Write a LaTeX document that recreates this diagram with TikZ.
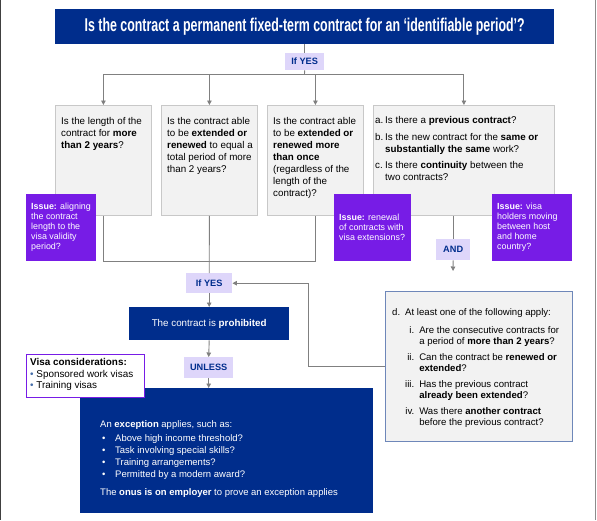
\documentclass[tikz,border=0pt]{standalone}
\usepackage{fontspec}
\setmainfont{Liberation Sans}
\newfontfamily\titlefont[FakeStretch=0.67]{Liberation Sans Bold}
\usetikzlibrary{arrows.meta}
\definecolor{navy}{RGB}{0,45,140}
\definecolor{purp}{RGB}{119,28,230}
\definecolor{lav}{RGB}{222,214,250}
\definecolor{boxgray}{RGB}{242,242,242}
\definecolor{boxline}{RGB}{200,200,200}
\definecolor{connc}{RGB}{128,128,128}
\definecolor{dline}{RGB}{110,135,185}
\definecolor{bulc}{RGB}{70,110,170}
\begin{document}
\hyphenpenalty=10000 \exhyphenpenalty=10000
\renewcommand\arraystretch{1}
\begin{tikzpicture}[x=1pt,y=-1pt,
  qbox/.style={draw=boxline, fill=boxgray, line width=0.8pt, anchor=north west, inner sep=0pt},
  qtext/.style={anchor=north west, inner sep=0pt, align=left, font=\fontsize{9.8}{12}\selectfont},
  issue/.style={fill=purp, anchor=north west, inner sep=0pt, minimum height=67pt},
  issuetext/.style={text=white, font=\fontsize{8.9}{10}\selectfont, align=left, anchor=west, inner sep=0pt},
  tag/.style={fill=lav, text=navy, font=\fontsize{9.2}{10}\bfseries\selectfont, inner sep=0pt, anchor=north west},
  navybox/.style={fill=navy, inner sep=0pt, anchor=north west},
  conn/.style={draw=connc, line width=0.9pt},
  arr/.style={conn, -{Triangle[length=4.5pt,width=4.5pt]}}
]
\useasboundingbox (0,0) rectangle (597,520);
\fill[white] (0,0) rectangle (597,520);
\draw[line width=1pt, black!75] (0.5,0) -- (0.5,520);
\draw[line width=1pt, black!45] (595.5,0) -- (595.5,520);

% title
\node[navybox, minimum width=499pt, minimum height=35pt] (title) at (55,9)
  {\titlefont\fontsize{18.5}{20}\selectfont\color{white}Is the contract a permanent fixed-term contract for an ‘identifiable period’?};
\node[tag, minimum width=39pt, minimum height=17pt] (yes1) at (285,53) {If YES};

% question boxes
\node[qbox, minimum width=96pt, minimum height=110pt] (b1) at (55,105) {};
\node[qbox, minimum width=96pt, minimum height=110pt] (b2) at (161,105) {};
\node[qbox, minimum width=96pt, minimum height=110pt] (b3) at (267,105) {};
\node[qbox, minimum width=181pt, minimum height=110pt] (b4) at (373,105) {};

\node[qtext] (t1) at (61,117) {Is the length of the\\contract for \textbf{more}\\\textbf{than 2 years}?};
\node[qtext] (t2) at (167,117) {Is the contract able\\to be \textbf{extended or}\\\textbf{renewed} to equal a\\total period of more\\than 2 years?};
\node[qtext] (t3) at (273,117) {Is the contract able\\to be \textbf{extended or}\\\textbf{renewed more}\\\textbf{than once}\\(regardless of the\\length of the\\contract)?};
\node[anchor=north west, inner sep=0pt, font=\fontsize{9.8}{11.5}\selectfont] (t4) at (375,115) {%
  \begin{tabular}{@{}p{10pt}@{}l@{}}
  a. & Is there a \textbf{previous contract}?\\[6pt]
  b. & Is the new contract for the \textbf{same or}\\
     & \textbf{substantially the same} work?\\[5pt]
  c. & Is there \textbf{continuity} between the\\
     & two contracts?
  \end{tabular}};

% connectors from top
\draw[conn] (title.south -| yes1.north) -- (yes1.north);
\coordinate (hy) at (304.5,74);
\draw[conn] (yes1.south) -- (hy);
\draw[conn] (b1.north |- hy) -- (b4.north |- hy);
\draw[arr] (b1.north |- hy) -- (b1.north);
\draw[arr] (b2.north |- hy) -- (b2.north);
\draw[arr] (b3.north |- hy) -- (b3.north);
\draw[arr] (b4.north |- hy) -- (b4.north);

% lower flow
\node[tag, minimum width=46pt, minimum height=20pt] (yes2) at (186,273) {If YES};
\node[navybox, minimum width=160pt, minimum height=33pt, text=white, font=\fontsize{9.8}{12}\selectfont] (proh) at (129,307) {The contract is \textbf{prohibited}};
\node[tag, minimum width=49pt, minimum height=21pt] (unless) at (184,357) {UNLESS};
\node[navybox, minimum width=293pt, minimum height=125pt] (exc) at (80,388) {};
\node[anchor=north west, inner sep=0pt, text=white, font=\fontsize{9.5}{12}\selectfont] (exct) at (100,419) {%
  \begin{tabular}{@{}p{2pt}@{}p{13pt}@{}l@{}}
  \multicolumn{3}{@{}l@{}}{An \textbf{exception} applies, such as:}\\[2pt]
  & • & Above high income threshold?\\
  & • & Task involving special skills?\\
  & • & Training arrangements?\\
  & • & Permitted by a modern award?\\[6pt]
  \multicolumn{3}{@{}l@{}}{The \textbf{onus is on employer} to prove an exception applies}
  \end{tabular}};

\node[draw=purp, line width=0.9pt, fill=white, anchor=north west, minimum width=118pt, minimum height=43pt, inner sep=0pt] (visa) at (26,354) {};
\node[anchor=north west, inner sep=0pt, align=left, font=\fontsize{9.9}{11.8}\selectfont] (visat) at (30,358) {%
  \textbf{Visa considerations:}\\
  {\color{bulc}•} Sponsored work visas\\
  {\color{bulc}•} Training visas};

% d box
\node[draw=dline, line width=0.8pt, fill=boxgray, anchor=north west, minimum width=187pt, minimum height=150pt, inner sep=0pt] (dbox) at (385,291) {};
\node[anchor=north west, inner sep=0pt, font=\fontsize{9.6}{11}\selectfont] (dtext) at (392,308) {%
  \begin{tabular}{@{}p{13pt}@{}r@{\hspace{5pt}}l@{}}
  d. & \multicolumn{2}{@{}l@{}}{At least one of the following apply:}\\[7pt]
  & i. & Are the consecutive contracts for\\
  &    & a period of \textbf{more than 2 years}?\\[5pt]
  & ii. & Can the contract be \textbf{renewed or}\\
  &     & \textbf{extended}?\\[5pt]
  & iii. & Has the previous contract\\
  &      & \textbf{already been extended}?\\[5pt]
  & iv. & Was there \textbf{another contract}\\
  &     & before the previous contract?
  \end{tabular}};

% middle connectors
\coordinate (hl) at (209,261);
\draw[conn] (b1.south) -- (b1.south |- hl) -- (b3.south |- hl) -- (b3.south);
\draw[conn] (b2.south) -- (yes2.north);
\draw[arr] (yes2.south) -- (proh.north);
\draw[arr] (proh.south) -- (unless.north);
\draw[arr] (unless.south) -- (unless.south |- exc.north);
\node[tag, minimum width=34pt, minimum height=21pt] (and) at (436,239) {AND};
\draw[conn] (b4.south -| and.north) -- (and.north);
\coordinate (andend) at (453,271);
\draw[arr] (and.south) -- (andend);
\coordinate (dl) at (308,366);
\draw[arr] (dbox.west |- dl) -- (dl) -- (dl |- yes2.east) -- (yes2.east);

% issue boxes
\node[issue, minimum width=70pt] (i1) at (26,194) {};
\node[issuetext] (i1t) at (31,227.5) {\textbf{Issue:} aligning\\the contract\\length to the\\visa validity\\period?};
\node[issue, minimum width=77pt] (i2) at (334,194) {};
\node[issuetext] (i2t) at (339,227.5) {\textbf{Issue:} renewal\\of contracts with\\visa extensions?};
\node[issue, minimum width=80pt] (i3) at (492,194) {};
\node[issuetext] (i3t) at (497,227.5) {\textbf{Issue:} visa\\holders moving\\between host\\and home\\country?};
\end{tikzpicture}
\end{document}
